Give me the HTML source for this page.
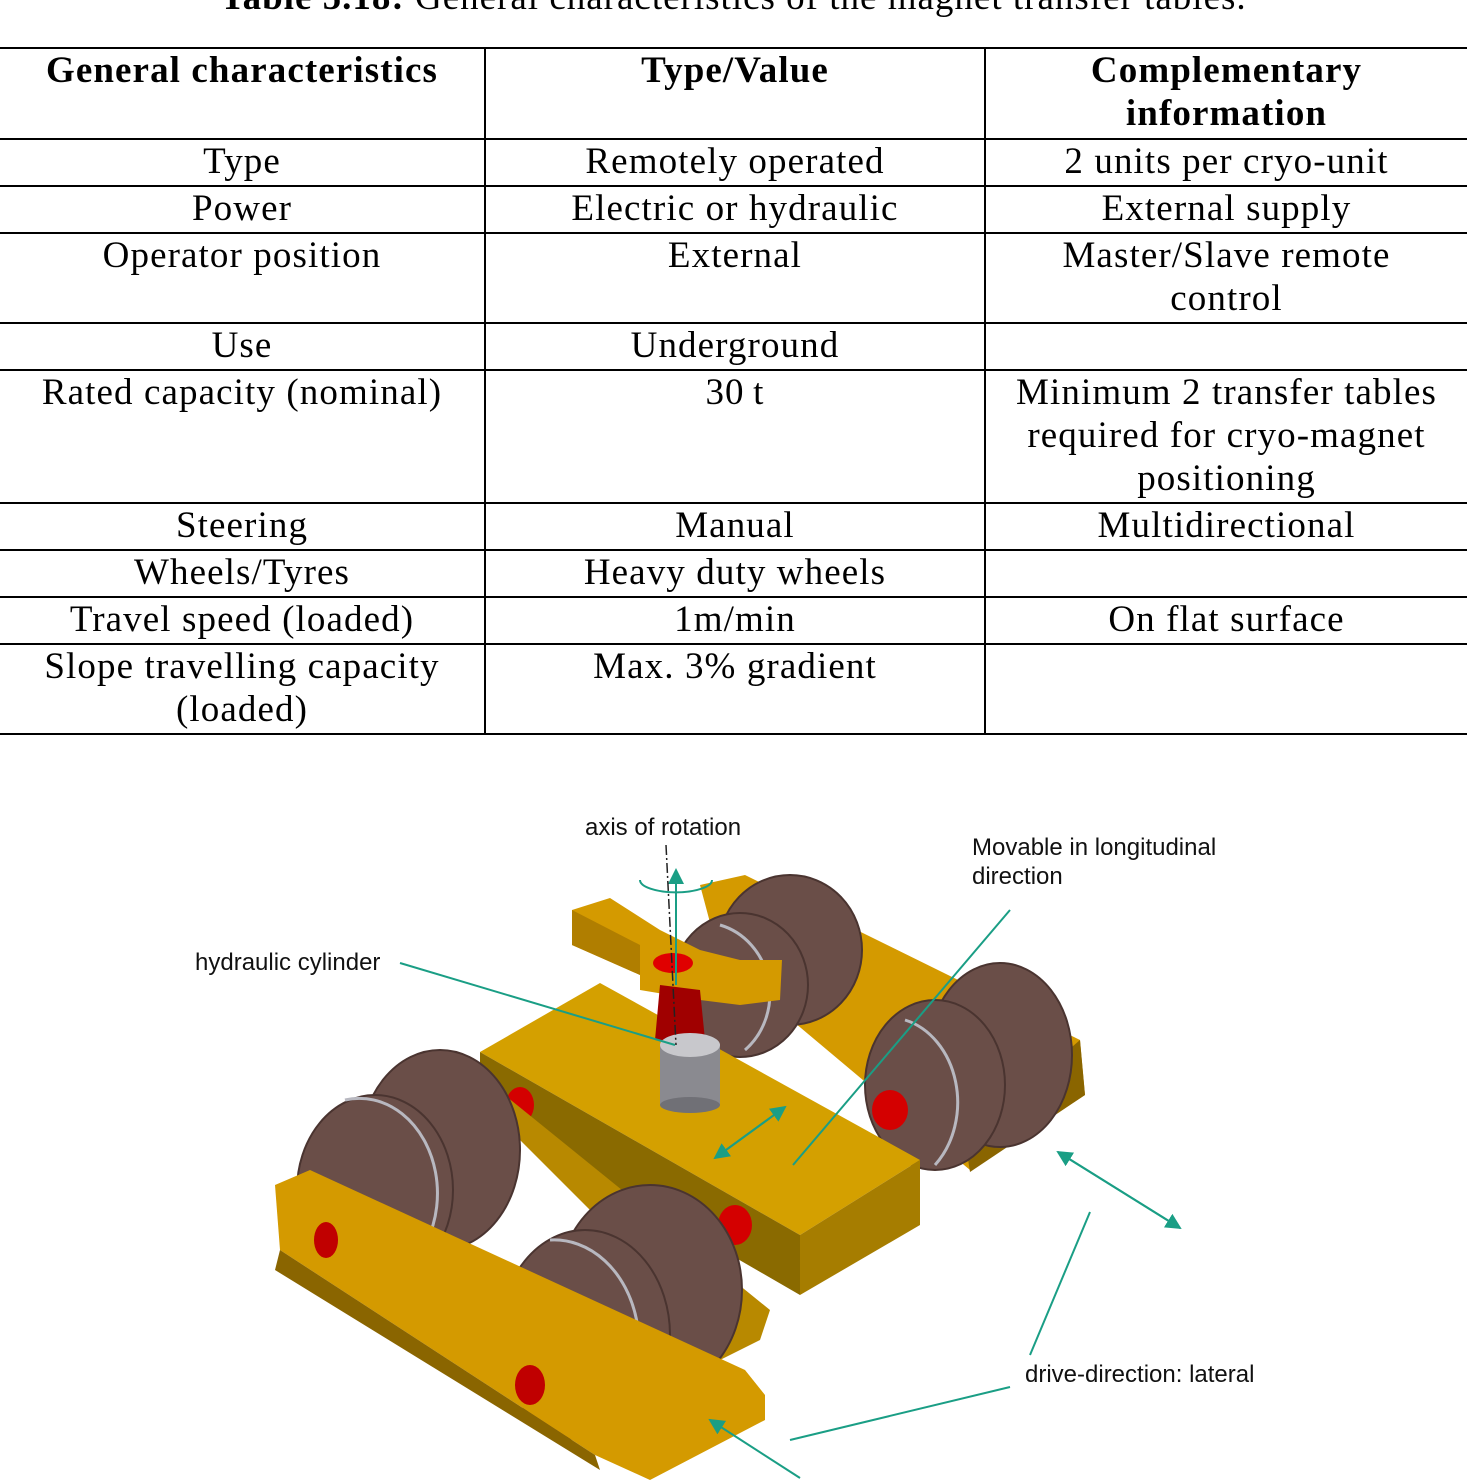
<!DOCTYPE html>
<html><head><meta charset="utf-8"><style>
body{margin:0;width:1467px;height:1481px;background:#fff;position:relative;overflow:hidden;font-family:"Liberation Serif",serif;}
.cap{position:absolute;top:-24px;left:0;width:1467px;text-align:center;font-size:37px;letter-spacing:1px;color:#000}
table{position:absolute;top:47px;left:0;width:1467px;border-collapse:collapse;font-size:37px;letter-spacing:1.1px;line-height:43px;table-layout:fixed}
td,th{border-top:2px solid #000;border-bottom:2px solid #000;text-align:center;vertical-align:top;padding:0 2px 2px;white-space:nowrap}
td:nth-child(2),th:nth-child(2){border-left:2px solid #000;border-right:2px solid #000}
th{font-weight:bold}
col.a{width:485px}col.b{width:500px}
.lab{position:absolute;font-family:"Liberation Sans",sans-serif;font-size:24px;color:#111;line-height:29px}
</style></head><body>
<div class="cap"><b>Table 5.18:</b> General characteristics of the magnet transfer tables.</div>
<table><colgroup><col class="a"><col class="b"><col></colgroup>
<tr style="height:91px"><th>General characteristics</th><th>Type/Value</th><th>Complementary<br>information</th></tr>
<tr style="height:45px"><td>Type</td><td>Remotely operated</td><td>2 units per cryo-unit</td></tr>
<tr style="height:45px"><td>Power</td><td>Electric or hydraulic</td><td>External supply</td></tr>
<tr style="height:89px"><td>Operator position</td><td>External</td><td>Master/Slave remote<br>control</td></tr>
<tr style="height:45px"><td>Use</td><td>Underground</td><td></td></tr>
<tr style="height:133px"><td>Rated capacity (nominal)</td><td>30&#8201;t</td><td>Minimum 2 transfer tables<br>required for cryo-magnet<br>positioning</td></tr>
<tr style="height:45px"><td>Steering</td><td>Manual</td><td>Multidirectional</td></tr>
<tr style="height:45px"><td>Wheels/Tyres</td><td>Heavy duty wheels</td><td></td></tr>
<tr style="height:45px"><td>Travel speed (loaded)</td><td>1m/min</td><td>On flat surface</td></tr>
<tr style="height:88px"><td>Slope travelling capacity<br>(loaded)</td><td>Max. 3% gradient</td><td></td></tr>
</table>
<svg style="position:absolute;left:0;top:0" width="1467" height="1481">
<defs><marker id="ar" markerWidth="8" markerHeight="8" refX="7" refY="4" orient="auto"><path d="M0,0 L8,4 L0,8z" fill="#1a9e85"/></marker></defs>
<polygon points="700,885 745,875 1080,1040 1085,1095 970,1170 720,960" fill="#d49a00"/>
<polygon points="1080,1040 1085,1095 970,1172 965,1140" fill="#8a6500"/>
<g fill="#6a4e48" stroke="#4a3430" stroke-width="2">
<ellipse cx="790" cy="950" rx="72" ry="75"/><ellipse cx="740" cy="985" rx="68" ry="72"/>
<ellipse cx="1000" cy="1055" rx="72" ry="92"/><ellipse cx="935" cy="1085" rx="70" ry="85"/>
</g>
<g fill="none" stroke="#b8b8c0" stroke-width="3"><path d="M905,1020 A70,85 0 0,1 935,1165"/><path d="M720,925 A68,72 0 0,1 745,1050"/></g>
<polygon points="480,1052 600,983 920,1160 800,1235" fill="#d4a000"/>
<polygon points="480,1052 800,1235 800,1295 480,1110" fill="#8a6a00"/>
<polygon points="800,1235 920,1160 920,1225 800,1295" fill="#a67d00"/>
<polygon points="572,910 610,898 660,930 700,950 740,960 782,960 780,1000 740,1005 700,1000 640,990 640,975 572,945" fill="#d49a00"/>
<polygon points="572,910 572,945 640,975 640,945" fill="#b07e00"/>
<ellipse cx="673" cy="963" rx="20" ry="10" fill="#e00000"/>
<polygon points="655,1040 660,985 700,990 705,1040" fill="#a00000"/>
<rect x="660" y="1045" width="60" height="60" fill="#8a8a90"/>
<ellipse cx="690" cy="1045" rx="30" ry="12" fill="#c8c8cc"/>
<ellipse cx="690" cy="1105" rx="30" ry="8" fill="#707076"/>
<g fill="#d40000"><ellipse cx="520" cy="1105" rx="14" ry="18"/><ellipse cx="890" cy="1110" rx="18" ry="20"/><ellipse cx="735" cy="1225" rx="17" ry="20"/></g>
<polygon points="455,1075 480,1075 770,1310 760,1340 720,1360 710,1330" fill="#b88900"/>
<g fill="#6a4e48" stroke="#4a3430" stroke-width="2">
<ellipse cx="440" cy="1150" rx="80" ry="100"/><ellipse cx="375" cy="1190" rx="78" ry="95"/>
<ellipse cx="650" cy="1290" rx="92" ry="105"/><ellipse cx="585" cy="1335" rx="85" ry="105"/>
</g>
<g fill="none" stroke="#b8b8c0" stroke-width="3"><path d="M345,1100 A78,95 0 0,1 380,1285"/><path d="M550,1240 A85,105 0 0,1 590,1440"/></g>
<polygon points="275,1185 310,1170 745,1370 765,1395 765,1420 650,1480 595,1455 280,1250" fill="#d49a00"/>
<polygon points="280,1250 595,1455 600,1470 275,1270" fill="#8a6500"/>
<g fill="#c00000"><ellipse cx="326" cy="1240" rx="12" ry="18"/><ellipse cx="530" cy="1385" rx="15" ry="20"/></g>
<g stroke="#1a9e85" stroke-width="2" fill="none">
<line x1="400" y1="963" x2="675" y2="1045"/>
<line x1="1010" y1="910" x2="793" y2="1165"/>
<line x1="676" y1="985" x2="676" y2="870" marker-end="url(#ar)"/>
<path d="M640,880 A35,12 0 1,0 712,880" />
<line x1="715" y1="1158" x2="785" y2="1107" marker-end="url(#ar)"/>
<line x1="785" y1="1107" x2="715" y2="1158" marker-end="url(#ar)"/>
<line x1="1180" y1="1228" x2="1058" y2="1152" marker-end="url(#ar)"/>
<line x1="1058" y1="1152" x2="1180" y2="1228" marker-end="url(#ar)"/>
<line x1="1090" y1="1212" x2="1030" y2="1355"/>
<line x1="1010" y1="1387" x2="790" y2="1440"/>
<line x1="800" y1="1478" x2="710" y2="1420" marker-end="url(#ar)"/>
</g>
<line x1="666" y1="845" x2="676" y2="1045" stroke="#222" stroke-width="1.5" stroke-dasharray="10,3,2,3"/>
</svg>
<div class="lab" style="left:585px;top:813px">axis of rotation</div>
<div class="lab" style="left:972px;top:833px">Movable in longitudinal<br>direction</div>
<div class="lab" style="left:195px;top:948px">hydraulic cylinder</div>
<div class="lab" style="left:1025px;top:1360px">drive-direction: lateral</div>
</body></html>
